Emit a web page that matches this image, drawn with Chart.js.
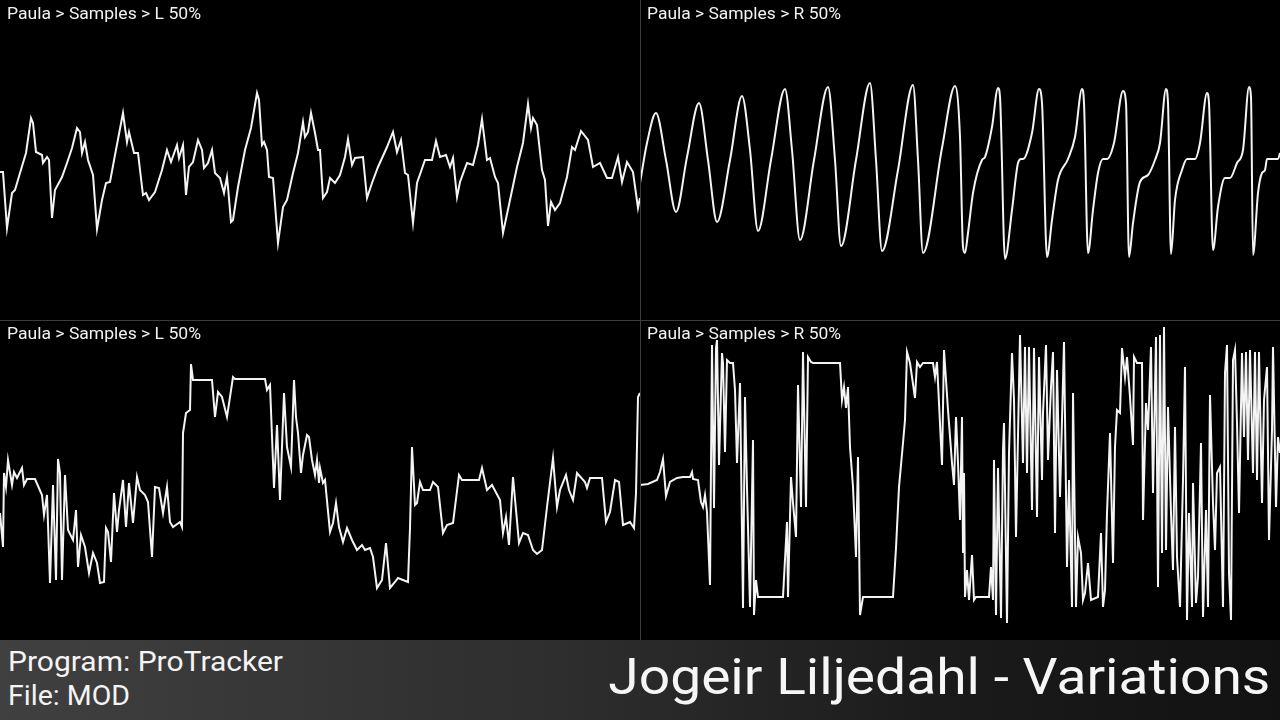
<!DOCTYPE html>
<html>
<head>
<meta charset="utf-8">
<script src="https://cdn.jsdelivr.net/npm/chart.js@4.4.0/dist/chart.umd.min.js"></script>
<style>
  html, body { margin: 0; padding: 0; background: #000; }
  body { width: 1280px; height: 720px; position: relative; overflow: hidden; font-family: Roboto, "DejaVu Sans", sans-serif; }
  .panel { position: absolute; width: 640px; height: 320px; }
  .panel canvas { position: absolute; left: 0; top: 0; }
  .label { position: absolute; left: 7px; top: 4px; color: #f2f2f2; font-size: 16px; line-height: 20px; white-space: nowrap; transform-origin: left center; }
  .vsep { position: absolute; left: 640px; top: 0; width: 1px; height: 640px; background: #3c3c3c; }
  .hsep { position: absolute; left: 0; top: 320px; width: 1280px; height: 1px; background: #3c3c3c; }
  .bar { position: absolute; left: 0; top: 640px; width: 1280px; height: 80px;
         background: linear-gradient(to right, #404040 0%, #2d2d2d 45%, #1a1a1a 75%, #121212 100%); }
  .info { position: absolute; left: 8px; color: #f4f4f4; font-size: 27px; white-space: nowrap; transform-origin: left center; }
  .title { position: absolute; right: 10px; top: 648px; color: #f6f6f6; font-size: 50px; white-space: nowrap; transform-origin: right center; }
</style>
</head>
<body>
<div class="panel" style="left:0;top:0"><canvas id="tl" width="640" height="320"></canvas><div class="label" id="lab0"></div></div>
<div class="panel" style="left:640px;top:0"><canvas id="tr" width="640" height="320"></canvas><div class="label" id="lab1"></div></div>
<div class="panel" style="left:0;top:320px"><canvas id="bl" width="640" height="320"></canvas><div class="label" id="lab2"></div></div>
<div class="panel" style="left:640px;top:320px"><canvas id="br" width="640" height="320"></canvas><div class="label" id="lab3"></div></div>
<div class="vsep"></div>
<div class="hsep"></div>
<div class="bar"></div>
<div class="info" id="prog" style="top:646px"></div>
<div class="info" id="file" style="top:680px"></div>
<div class="title" id="title"></div>
<script>
// channel labels, one per scope
const channelLabels = ['Paula > Samples > L 50%', 'Paula > Samples > R 50%', 'Paula > Samples > L 50%', 'Paula > Samples > R 50%'];
const programText = 'Program: ProTracker';
const fileText = 'File: MOD';
const songTitle = 'Jogeir Liljedahl - Variations';

// top left scope (sample index, level)
const tlX = [0,3,7,12,15,20,26,31,33,36,42,43,47,49,52,55,62,67,72,77,80,82,85,88,93,97,102,106,110,115,123,127,129,134,138,143,146,149,155,162,167,171,177,179,183,186,189,193,198,202,204,208,212,215,220,224,227,228,231,233,238,245,251,257,259,262,264,267,269,273,278,283,287,293,298,303,305,308,311,315,318,320,323,327,330,335,340,345,348,352,355,363,367,372,378,387,393,397,401,405,408,413,417,425,432,436,440,446,450,453,457,460,467,473,478,482,487,490,495,498,503,510,517,523,528,531,533,537,542,545,548,551,555,560,567,572,575,581,588,593,600,607,612,618,622,627,633,638,640];
const tlY = [-12,-12,-68,-33,-30,-13,7,42,37,8,5,-3,3,0,-58,-30,-17,-3,12,32,28,7,18,0,-15,-69,-40,-23,-22,5,47,18,28,7,7,-35,-33,-40,-32,-10,10,-2,15,2,15,-35,-7,-2,20,10,-8,-3,10,-13,-18,-33,-17,-27,-62,-60,-27,10,32,67,60,15,18,10,-17,-18,-83,-47,-40,-13,7,38,23,28,47,27,10,10,-38,-32,-18,-23,-15,3,21,-5,2,3,-38,-23,-7,13,28,8,20,-13,-15,-63,-23,0,0,19,3,5,-7,2,-37,-22,-3,-5,15,41,0,2,-17,-23,-73,-40,-7,17,56,32,42,35,-10,-20,-66,-42,-50,-43,-17,13,10,29,20,-7,-3,-18,-18,3,-22,-2,-12,-48,-38];

// top right scope
const trX = [0,7,16,26,36,47,59,68,77,90,102,110,118,131,145,152,160,174,188,195,201,216,230,236,242,258,273,278,283,302,315,320,323,325,328,333,342,345,352,358,360,365,372,378,381,383,392,399,402,407,412,418,428,435,442,444,448,453,458,463,467,474,483,486,489,493,500,508,515,520,526,528,531,535,542,547,555,560,567,569,573,578,585,590,597,603,609,611,613,618,622,625,627,638,640];
const trY = [-23,17,47,0,-52,3,57,0,-62,0,64,10,-71,0,71,10,-80,0,73,0,-86,0,77,0,-91,-10,75,0,-93,12,74,23,-87,-93,-73,-33,0,3,33,72,63,-99,-50,-3,1,1,27,71,57,-97,-60,-20,1,23,71,57,-93,-50,-13,1,1,17,69,57,-97,-63,-22,-15,0,17,71,57,-94,-40,-10,1,1,17,67,57,-90,-47,-18,-18,-3,10,73,63,-95,-33,-13,-10,1,1,7];

// bottom left scope
const blX = [0,3,4,6,8,12,14,17,22,24,27,35,42,44,47,50,53,56,58,60,62,65,68,73,76,78,81,85,89,93,97,100,104,106,108,111,114,117,119,123,126,129,133,137,140,145,148,152,155,159,163,167,170,173,180,182,183,186,190,191,193,212,215,218,222,227,233,235,265,267,270,274,277,280,284,287,291,294,296,298,301,303,307,309,312,315,317,319,320,323,325,330,333,336,339,343,347,352,357,362,365,370,373,377,382,386,390,395,398,408,410,412,415,417,420,423,430,433,438,443,447,453,459,462,479,482,487,492,500,503,506,509,513,519,523,528,533,537,542,547,553,557,560,566,569,573,577,585,587,590,602,606,610,615,619,623,630,634,636,638,640];
const blY = [-33,-67,7,-7,20,-5,8,2,12,-5,1,1,-15,-35,-15,-103,-5,-100,21,7,-100,5,-50,-60,-30,-87,-55,-67,-93,-73,-83,-103,-102,-48,-52,-82,-13,-52,-30,0,-47,-3,-43,3,-10,-15,-22,-77,-7,-8,-33,-7,-42,-47,-42,-47,47,67,70,116,100,100,63,88,83,63,103,101,101,90,95,-8,55,-20,87,33,13,100,63,47,7,25,45,43,20,5,20,-3,12,-3,0,-52,-43,-23,-47,-62,-48,-60,-70,-65,-70,-68,-77,-108,-100,-63,-108,-102,-98,-102,-48,33,-25,-23,-2,-10,-10,-2,-7,-53,-45,-43,5,0,0,12,-10,-5,-20,-53,-37,-65,3,-63,-53,-55,-70,-74,-70,-27,22,-27,-10,5,-10,-20,7,-2,-8,2,2,-42,-32,0,-2,-45,-42,-48,-13,83,87];

// bottom right scope
const brX = [0,8,17,20,23,26,30,37,43,50,52,53,58,61,63,65,67,70,72,74,76,77,79,82,83,85,87,90,93,95,97,100,103,105,107,110,113,114,116,118,120,143,147,148,151,153,156,158,161,163,166,168,171,173,200,202,204,206,208,210,213,216,218,220,223,253,256,259,263,265,267,270,275,277,280,283,293,295,297,302,304,308,312,314,316,318,320,322,323,324,325,327,329,332,334,336,349,351,353,354,356,358,361,363,364,367,369,372,374,376,380,383,385,387,389,392,394,397,399,402,403,406,408,411,413,415,417,420,424,427,429,432,433,436,438,441,443,445,448,451,458,461,463,465,467,470,473,475,477,480,482,485,487,490,493,494,497,502,503,506,508,511,513,516,518,520,522,524,526,528,531,533,535,537,540,543,545,547,549,552,553,556,558,561,563,566,568,570,573,575,577,580,583,585,587,589,591,593,595,597,599,602,604,606,608,610,613,615,617,619,622,624,627,629,632,633,636,638,640];
const brY = [-5,-4,0,8,21,-16,-2,2,3,3,8,1,0,-22,-27,-15,-32,-105,135,-28,132,140,15,127,117,28,120,117,117,90,17,97,-128,83,-8,-127,40,-135,-100,-117,-117,-117,-42,-117,3,-23,-57,95,-27,128,-27,123,118,117,117,80,93,72,93,33,-7,-77,23,-135,-117,-117,-68,-7,37,60,128,117,82,118,113,117,117,103,118,15,130,70,17,-5,63,17,-40,63,-73,7,-117,-90,-120,-75,-120,-117,-117,-87,-120,20,-135,12,-138,30,57,-143,27,127,80,-57,145,17,133,7,133,-30,132,-37,123,0,67,135,20,93,128,-53,110,-17,138,-87,0,-127,87,-127,-57,-73,-120,-113,-83,-120,-117,-53,-127,-110,-33,47,-83,33,70,67,132,103,123,83,35,123,117,117,-40,77,50,133,-13,143,-107,145,-73,153,-70,73,-33,-90,53,-77,-127,0,113,-140,-33,-127,-3,-123,-97,37,-137,-30,-127,85,-23,-70,7,13,-127,107,135,-93,-140,120,130,57,-33,127,43,128,20,130,7,128,0,128,-23,80,113,-60,50,133,-27,43,27];

function makeScope(id, xs, ys, smooth) {
    const pts = xs.map((x, i) => ({ x: x, y: ys[i] }));
    return new Chart(document.getElementById(id).getContext('2d'), {
        type: 'line',
        data: {
            datasets: [{
                data: pts,
                borderColor: '#f4f4f4',
                borderWidth: 2,
                pointRadius: 0,
                fill: false,
                tension: smooth ? 0.4 : 0,
                cubicInterpolationMode: smooth ? 'monotone' : 'default',
            }]
        },
        options: {
            responsive: false,
            animation: false,
            events: [],
            layout: { padding: 0 },
            plugins: { legend: { display: false }, tooltip: { enabled: false } },
            scales: {
                x: { type: 'linear', min: 0, max: 640, display: false },
                y: { min: -160, max: 160, display: false },
            }
        }
    });
}

makeScope('tl', tlX, tlY, false);
makeScope('tr', trX, trY, true);
makeScope('bl', blX, blY, false);
makeScope('br', brX, brY, false);

// stretch a text element to the width it has in the video frame
function fitWidth(el, target) {
    const w = el.getBoundingClientRect().width;
    el.style.transform = 'scaleX(' + (target / w) + ')';
}

channelLabels.forEach((t, i) => {
    const el = document.getElementById('lab' + i);
    el.textContent = t;
    fitWidth(el, 194);
});
const prog = document.getElementById('prog');
prog.textContent = programText;
fitWidth(prog, 275);
const file = document.getElementById('file');
file.textContent = fileText;
fitWidth(file, 122);
const title = document.getElementById('title');
title.textContent = songTitle;
fitWidth(title, 662);
</script>
</body>
</html>
